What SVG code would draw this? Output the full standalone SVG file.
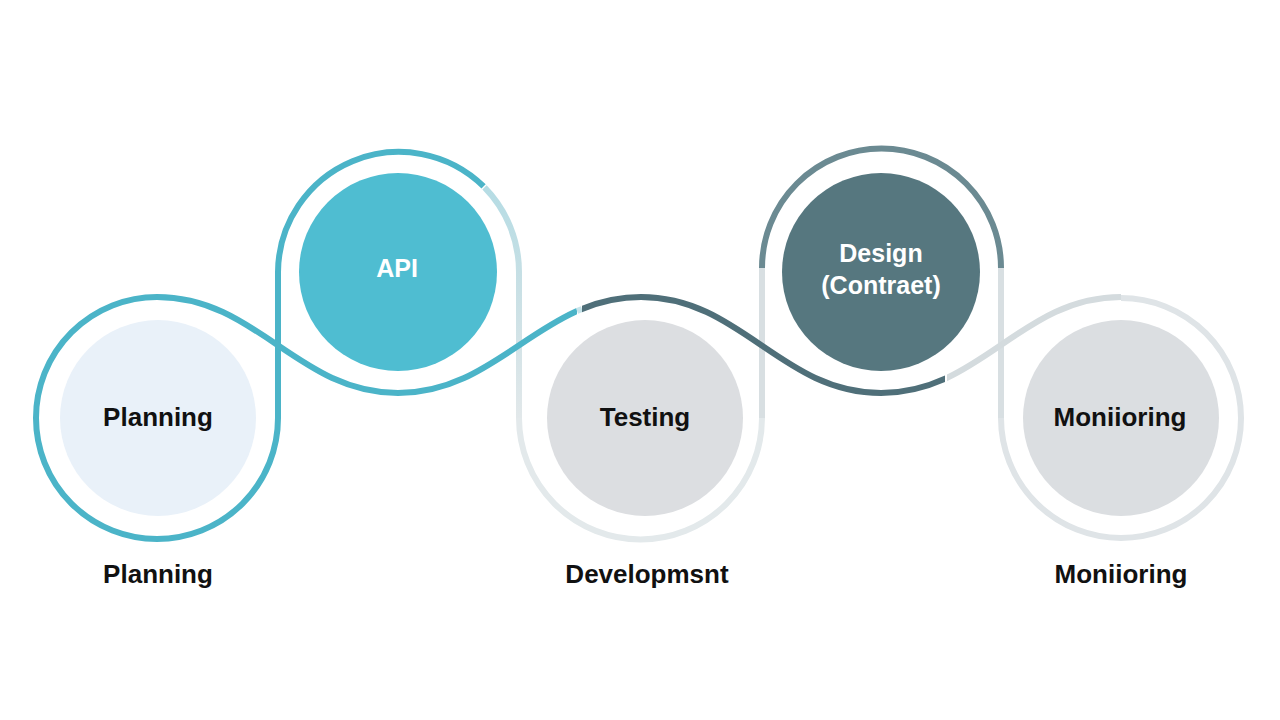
<svg xmlns="http://www.w3.org/2000/svg" width="1280" height="720" viewBox="0 0 1280 720">
  <defs>
    <style>
      .lbl { font-family: "Liberation Sans", Arial, sans-serif; font-weight: bold; font-size: 26px; fill: #111; text-anchor: middle; }
      .wlbl { font-family: "Liberation Sans", Arial, sans-serif; font-weight: bold; fill: #ffffff; text-anchor: middle; }
      .ring { fill: none; stroke-width: 6; stroke-linecap: butt; }
    </style>
    <clipPath id="clipCyan"><rect x="0" y="0" width="577" height="720"/></clipPath>
    <clipPath id="clipSlate"><rect x="582" y="0" width="363" height="720"/></clipPath>
    <clipPath id="clipGray"><rect x="947" y="0" width="333" height="720"/></clipPath>
    <linearGradient id="paleGrad" x1="0" y1="186" x2="0" y2="418" gradientUnits="userSpaceOnUse">
      <stop offset="0" stop-color="#b5dce4"/>
      <stop offset="0.45" stop-color="#c9e0e5"/>
      <stop offset="1" stop-color="#e2e8ea"/>
    </linearGradient>
  </defs>
  <rect width="1280" height="720" fill="#ffffff"/>

  <g id="connectors">
    <!-- Planning ring + API ring left/top (cyan) -->
    <path class="ring" stroke="#4bb4c8" d="M157,297 A121,121 0 1 0 278,418 L278,272 A121,121 0 0 1 483.6,186.4"/>
    <!-- API ring right side (pale) -->
    <path class="ring" stroke="url(#paleGrad)" d="M484.5,187.3 A121,121 0 0 1 519,272 L519,418"/>
    <!-- Testing ring bottom (very light) -->
    <path class="ring" stroke="#e3e9eb" d="M519,418 A121.5,121.5 0 0 0 762,418"/>
    <!-- Design ring sides (light gray) -->
    <path class="ring" stroke="#d8dfe2" d="M762,418 L762,268"/>
    <path class="ring" stroke="#d8dfe2" d="M1001,268 L1001,418"/>
    <!-- Design ring top (slate) -->
    <path class="ring" stroke="#6b8a92" d="M762,268 A119.5,119.5 0 0 1 1001,268"/>
    <!-- Monitoring ring (light gray) -->
    <path class="ring" stroke="#dfe4e7" d="M1001,418 A120,120 0 1 0 1121,298"/>
    <!-- Wave -->
    <path class="ring" stroke="#4bb4c8" clip-path="url(#clipCyan)" d="M157,297 C257,297 298,393 398,393 C498,393 541,297 641,297"/>
    <path class="ring" stroke="#c6e4ea" d="M577,311 L582,309"/>
    <path class="ring" stroke="#4f6f79" clip-path="url(#clipSlate)" d="M398,393 C498,393 541,297 641,297 C741,297 781,393 881,393 C981,393 1021,297 1121,297"/>
    <path class="ring" stroke="#d4dbde" clip-path="url(#clipGray)" d="M881,393 C981,393 1021,297 1121,297"/>
  </g>

  <g id="planning">
    <circle cx="158" cy="418" r="98" fill="#e9f1f9"/>
    <text class="lbl" x="158" y="426">Planning</text>
  </g>
  <g id="api">
    <circle cx="398" cy="272" r="99" fill="#4fbdd1"/>
    <text class="wlbl" x="397" y="277" font-size="25">API</text>
  </g>
  <g id="testing">
    <circle cx="645" cy="418" r="98" fill="#dcdee1"/>
    <text class="lbl" x="645" y="426">Testing</text>
  </g>
  <g id="design">
    <circle cx="881" cy="272" r="99" fill="#56777f"/>
    <text class="wlbl" x="881" y="262" font-size="25" fill="#e8eef0" font-weight="600">Design</text>
    <text class="wlbl" x="881" y="294" font-size="25" fill="#e8eef0" font-weight="600">(Contraet)</text>
  </g>
  <g id="monitoring">
    <circle cx="1121" cy="418" r="98" fill="#dbdee1"/>
    <text class="lbl" x="1120" y="426">Moniioring</text>
  </g>

  <g id="labels">
    <text class="lbl" x="158" y="583">Planning</text>
    <text class="lbl" x="647" y="583">Developmsnt</text>
    <text class="lbl" x="1121" y="583">Moniioring</text>
  </g>
</svg>
